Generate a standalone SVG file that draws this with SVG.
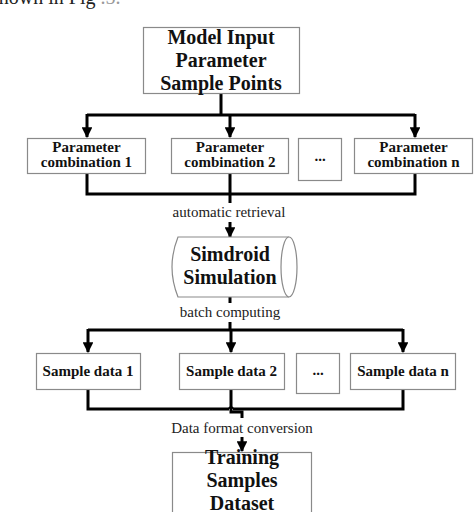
<svg xmlns="http://www.w3.org/2000/svg" width="474" height="512" viewBox="0 0 474 512">
<defs>
<style>
.box{fill:#fff;stroke:#8a8a8a;stroke-width:1.2}
.conn{fill:none;stroke:#000;stroke-width:3}
.big{font-family:"Liberation Serif",serif;font-weight:bold;font-size:20px;text-anchor:middle;fill:#111}
.mid{font-family:"Liberation Serif",serif;font-weight:bold;font-size:15px;text-anchor:middle;fill:#111}
.lab{font-family:"Liberation Serif",serif;font-size:15px;text-anchor:middle;fill:#222}
</style>
<marker id="arr" viewBox="0 0 10 10" refX="9" refY="5" markerWidth="3.6" markerHeight="3.6" orient="auto" markerUnits="strokeWidth">
<path d="M0,0 L10,5 L0,10 z" fill="#000"/>
</marker>
</defs>
<rect width="474" height="512" fill="#fff"/>
<text x="-9" y="4" font-family="Liberation Serif,serif" font-size="20" fill="#222">shown in Fig <tspan fill="#999">.5.</tspan></text>

<g id="connectors">
<path class="conn" d="M221,94 V115 M87,115 H415"/>
<path class="conn" marker-end="url(#arr)" d="M87,114 V137"/>
<path class="conn" marker-end="url(#arr)" d="M230,114 V137"/>
<path class="conn" marker-end="url(#arr)" d="M415,114 V137"/>
<path class="conn" d="M87,174 V194 H415 V174 M230,174 V203"/>
<path class="conn" marker-end="url(#arr)" d="M230,222 V237"/>
<path class="conn" d="M230,297 V303"/>
<path class="conn" d="M230,322 V330 M88,330 H403"/>
<path class="conn" marker-end="url(#arr)" d="M88,329 V352"/>
<path class="conn" marker-end="url(#arr)" d="M231,329 V352"/>
<path class="conn" marker-end="url(#arr)" d="M403,329 V352"/>
<path class="conn" d="M88,389 V409 H229 M233,409 H403 V389 M231,389 V407"/>
<path fill="none" stroke="#000" stroke-width="1.5" d="M229,409 A2,2 0 0 1 233,409"/>
<path class="conn" d="M231,407 V412 H242 V418"/>
<path class="conn" marker-end="url(#arr)" d="M242,437 V451"/>
</g>

<g id="n_input">
<rect class="box" x="143.5" y="27.5" width="156" height="66"/>
<text class="big" x="221" y="44">Model Input</text>
<text class="big" x="221" y="67">Parameter</text>
<text class="big" x="221" y="90">Sample Points</text>
</g>
<g id="n_pc1">
<rect class="box" x="27.5" y="138.5" width="118" height="35"/>
<text class="mid" x="86.5" y="152">Parameter</text>
<text class="mid" x="86.5" y="167">combination 1</text>
</g>
<g id="n_pc2">
<rect class="box" x="171.5" y="138.5" width="117" height="35"/>
<text class="mid" x="230" y="152">Parameter</text>
<text class="mid" x="230" y="167">combination 2</text>
</g>
<g id="n_pcdots">
<rect class="box" x="298.5" y="138.5" width="43" height="42"/>
<text class="mid" x="320" y="161">...</text>
</g>
<g id="n_pcn">
<rect class="box" x="354.5" y="138.5" width="118" height="35"/>
<text class="mid" x="413.5" y="152">Parameter</text>
<text class="mid" x="413.5" y="167">combination n</text>
</g>
<text class="lab" x="229" y="217">automatic retrieval</text>
<g id="n_sim">
<path class="box" d="M178,237 H289 A8,30 0 0 1 289,297 H178 Q166,267 178,237 Z"/>
<path class="box" fill="none" d="M289,237 A8,30 0 0 0 289,297"/>
<text class="big" x="230" y="261">Simdroid</text>
<text class="big" x="230" y="284">Simulation</text>
</g>
<text class="lab" x="230" y="317">batch computing</text>
<g id="n_sd1">
<rect class="box" x="36.5" y="353.5" width="104" height="36"/>
<text class="mid" x="88" y="376">Sample data 1</text>
</g>
<g id="n_sd2">
<rect class="box" x="179.5" y="353.5" width="105" height="36"/>
<text class="mid" x="231.5" y="376">Sample data 2</text>
</g>
<g id="n_sddots">
<rect class="box" x="296.5" y="353.5" width="43" height="40"/>
<text class="mid" x="318" y="375">...</text>
</g>
<g id="n_sdn">
<rect class="box" x="350.5" y="353.5" width="105" height="36"/>
<text class="mid" x="403" y="376">Sample data n</text>
</g>
<text class="lab" x="242" y="433">Data format conversion</text>
<g id="n_train">
<rect class="box" x="172.5" y="452.5" width="139" height="70"/>
<text class="big" x="242" y="464">Training</text>
<text class="big" x="242" y="487">Samples</text>
<text class="big" x="242" y="510">Dataset</text>
</g>
</svg>
